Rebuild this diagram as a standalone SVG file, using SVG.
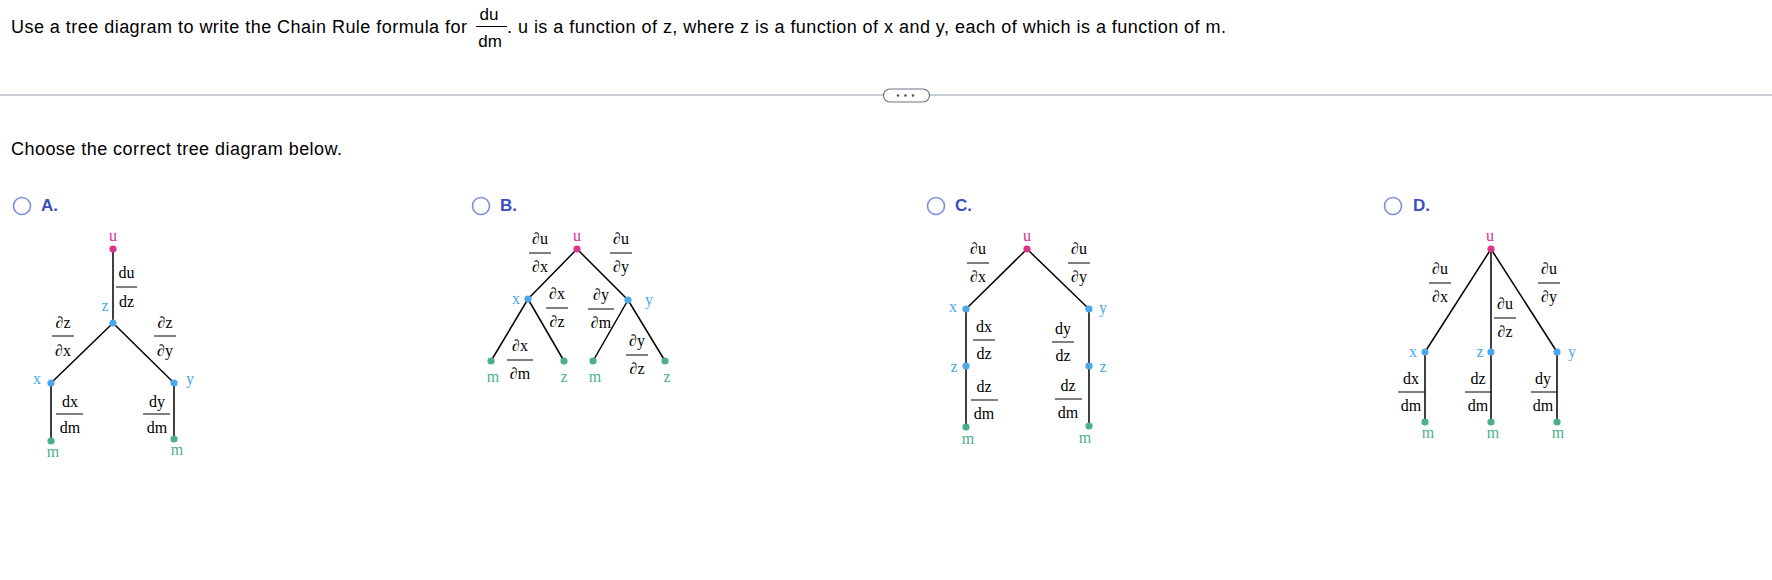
<svg xmlns="http://www.w3.org/2000/svg" width="1772" height="580" viewBox="0 0 1772 580">
<style>
.hd{font-family:"Liberation Sans",Arial,sans-serif;font-size:18px;fill:#000}
.fr{font-family:"Liberation Sans",Arial,sans-serif;font-size:17px;fill:#000;text-anchor:middle}
.opt{font-family:"Liberation Sans",Arial,sans-serif;font-size:17px;font-weight:bold;fill:#3a4fc0}
.radio{fill:#fff;stroke:#7f8fe0;stroke-width:1.6}
.m{font-family:"Liberation Serif","Times New Roman",serif;font-size:16px;fill:#000;text-anchor:middle}
.nl{font-family:"Liberation Serif","Times New Roman",serif;font-size:16px;text-anchor:middle}
.cu{fill:#d9338b}.cb{fill:#4aa8e8}.cg{fill:#4caf8c}
.bar{stroke:#000;stroke-width:1}
.edge{stroke:#000;stroke-width:1.5;fill:none}
</style>
<rect width="1772" height="580" fill="#fff"/>
<g id="header">
<text class="hd" x="11" y="33" textLength="456" lengthAdjust="spacing">Use a tree diagram to write the Chain Rule formula for</text>
<text class="fr" x="489" y="20">du</text>
<line x1="476" y1="26.5" x2="507" y2="26.5" stroke="#000" stroke-width="1"/>
<text class="fr" x="490" y="47">dm</text>
<text class="hd" x="507" y="33" textLength="719" lengthAdjust="spacing">. u is a function of z, where z is a function of x and y, each of which is a function of m.</text>
</g>
<g id="divider">
<line x1="0" y1="95" x2="883" y2="95" stroke="#b4bcc8" stroke-width="1.5"/>
<line x1="930" y1="95" x2="1772" y2="95" stroke="#b4bcc8" stroke-width="1.5"/>
<rect x="883.5" y="89" width="46" height="13" rx="6.5" fill="#fff" stroke="#6b7585" stroke-width="1.2"/>
<circle cx="898" cy="95.5" r="1.3" fill="#555"/><circle cx="905.5" cy="95.5" r="1.3" fill="#555"/><circle cx="913" cy="95.5" r="1.3" fill="#555"/>
</g>
<text class="hd" x="11" y="155" textLength="331" lengthAdjust="spacing">Choose the correct tree diagram below.</text>
<g id="options">
<circle class="radio" cx="22" cy="206" r="8.5"/><text class="opt" x="41" y="211">A.</text>
<circle class="radio" cx="481" cy="206" r="8.5"/><text class="opt" x="500" y="211">B.</text>
<circle class="radio" cx="936" cy="206" r="8.5"/><text class="opt" x="955" y="211">C.</text>
<circle class="radio" cx="1393" cy="206" r="8.5"/><text class="opt" x="1413" y="211">D.</text>
</g>

<!-- Tree A -->
<g id="treeA-edges">
<line class="edge" x1="113" y1="249" x2="113" y2="323"/>
<line class="edge" x1="113" y1="323" x2="51" y2="383"/>
<line class="edge" x1="113" y1="323" x2="174" y2="383"/>
<line class="edge" x1="51" y1="383" x2="51" y2="441"/>
<line class="edge" x1="174" y1="383" x2="174" y2="439"/>
</g>
<g id="treeA-nodes">
<g id="A-u"><circle cx="113" cy="249" r="3.6" class="cu"/><text class="nl cu" x="113" y="241">u</text></g>
<g id="A-z"><circle cx="113" cy="323" r="3.6" class="cb"/><text class="nl cb" x="105" y="311">z</text></g>
<g id="A-x"><circle cx="51" cy="383" r="3.6" class="cb"/><text class="nl cb" x="37" y="384">x</text></g>
<g id="A-y"><circle cx="174" cy="383" r="3.6" class="cb"/><text class="nl cb" x="190" y="384">y</text></g>
<g id="A-m1"><circle cx="51" cy="441" r="3.6" class="cg"/><text class="nl cg" x="53" y="457">m</text></g>
<g id="A-m2"><circle cx="174" cy="439" r="3.6" class="cg"/><text class="nl cg" x="177" y="455">m</text></g>
</g>
<g id="treeA-labels">
<text class="m" x="126.5" y="278">du</text><line class="bar" x1="116" y1="287" x2="137" y2="287"/><text class="m" x="126.5" y="307">dz</text>
<text class="m" x="63" y="328">∂z</text><line class="bar" x1="52" y1="336" x2="74" y2="336"/><text class="m" x="63" y="356">∂x</text>
<text class="m" x="165" y="328">∂z</text><line class="bar" x1="154" y1="336" x2="176" y2="336"/><text class="m" x="165" y="356">∂y</text>
<text class="m" x="70" y="407">dx</text><line class="bar" x1="56" y1="414" x2="83" y2="414"/><text class="m" x="70" y="433">dm</text>
<text class="m" x="157" y="407">dy</text><line class="bar" x1="143" y1="414" x2="170" y2="414"/><text class="m" x="157" y="433">dm</text>
</g>

<!-- Tree B -->
<g id="treeB-edges">
<line class="edge" x1="577" y1="249" x2="528" y2="299"/>
<line class="edge" x1="577" y1="249" x2="628" y2="300"/>
<line class="edge" x1="528" y1="299" x2="491" y2="361"/>
<line class="edge" x1="528" y1="299" x2="564" y2="361"/>
<line class="edge" x1="628" y1="300" x2="593" y2="361"/>
<line class="edge" x1="628" y1="300" x2="665" y2="361"/>
</g>
<g id="treeB-nodes">
<g id="B-u"><circle cx="577" cy="249" r="3.6" class="cu"/><text class="nl cu" x="577" y="241">u</text></g>
<g id="B-x"><circle cx="528" cy="299" r="3.6" class="cb"/><text class="nl cb" x="516" y="304">x</text></g>
<g id="B-y"><circle cx="628" cy="300" r="3.6" class="cb"/><text class="nl cb" x="649" y="305">y</text></g>
<g id="B-m1"><circle cx="491" cy="361" r="3.6" class="cg"/><text class="nl cg" x="493" y="382">m</text></g>
<g id="B-z1"><circle cx="564" cy="361" r="3.6" class="cg"/><text class="nl cg" x="564" y="382">z</text></g>
<g id="B-m2"><circle cx="593" cy="361" r="3.6" class="cg"/><text class="nl cg" x="595" y="382">m</text></g>
<g id="B-z2"><circle cx="665" cy="361" r="3.6" class="cg"/><text class="nl cg" x="667" y="382">z</text></g>
</g>
<g id="treeB-labels">
<text class="m" x="540" y="244">∂u</text><line class="bar" x1="529" y1="253" x2="551" y2="253"/><text class="m" x="540" y="272">∂x</text>
<text class="m" x="621" y="244">∂u</text><line class="bar" x1="610" y1="253" x2="632" y2="253"/><text class="m" x="621" y="272">∂y</text>
<text class="m" x="557" y="299">∂x</text><line class="bar" x1="546" y1="308" x2="568" y2="308"/><text class="m" x="557" y="327">∂z</text>
<text class="m" x="601" y="300">∂y</text><line class="bar" x1="588" y1="309" x2="614" y2="309"/><text class="m" x="601" y="328">∂m</text>
<text class="m" x="520" y="351">∂x</text><line class="bar" x1="507" y1="360" x2="533" y2="360"/><text class="m" x="520" y="379">∂m</text>
<text class="m" x="637" y="346">∂y</text><line class="bar" x1="626" y1="355" x2="648" y2="355"/><text class="m" x="637" y="374">∂z</text>
</g>

<!-- Tree C -->
<g id="treeC-edges">
<line class="edge" x1="1027" y1="249" x2="966" y2="309"/>
<line class="edge" x1="1027" y1="249" x2="1089" y2="309"/>
<line class="edge" x1="966" y1="309" x2="966" y2="427"/>
<line class="edge" x1="1089" y1="309" x2="1089" y2="426"/>
</g>
<g id="treeC-nodes">
<g id="C-u"><circle cx="1027" cy="249" r="3.6" class="cu"/><text class="nl cu" x="1027" y="241">u</text></g>
<g id="C-x"><circle cx="966" cy="309" r="3.6" class="cb"/><text class="nl cb" x="953" y="312">x</text></g>
<g id="C-y"><circle cx="1089" cy="309" r="3.6" class="cb"/><text class="nl cb" x="1103" y="313">y</text></g>
<g id="C-z1"><circle cx="966" cy="366" r="3.6" class="cb"/><text class="nl cb" x="954" y="372">z</text></g>
<g id="C-z2"><circle cx="1089" cy="366" r="3.6" class="cb"/><text class="nl cb" x="1103" y="372">z</text></g>
<g id="C-m1"><circle cx="966" cy="427" r="3.6" class="cg"/><text class="nl cg" x="968" y="444">m</text></g>
<g id="C-m2"><circle cx="1089" cy="426" r="3.6" class="cg"/><text class="nl cg" x="1085" y="443">m</text></g>
</g>
<g id="treeC-labels">
<text class="m" x="978" y="254">∂u</text><line class="bar" x1="967" y1="263" x2="989" y2="263"/><text class="m" x="978" y="282">∂x</text>
<text class="m" x="1079" y="254">∂u</text><line class="bar" x1="1068" y1="263" x2="1090" y2="263"/><text class="m" x="1079" y="282">∂y</text>
<text class="m" x="984" y="332">dx</text><line class="bar" x1="973" y1="340" x2="995" y2="340"/><text class="m" x="984" y="359">dz</text>
<text class="m" x="1063" y="334">dy</text><line class="bar" x1="1052" y1="342" x2="1074" y2="342"/><text class="m" x="1063" y="361">dz</text>
<text class="m" x="984" y="392">dz</text><line class="bar" x1="971" y1="400" x2="998" y2="400"/><text class="m" x="984" y="419">dm</text>
<text class="m" x="1068" y="391">dz</text><line class="bar" x1="1055" y1="399" x2="1082" y2="399"/><text class="m" x="1068" y="418">dm</text>
</g>

<!-- Tree D -->
<g id="treeD-edges">
<line class="edge" x1="1491" y1="249" x2="1425" y2="352"/>
<line class="edge" x1="1491" y1="249" x2="1491" y2="352"/>
<line class="edge" x1="1491" y1="249" x2="1557" y2="352"/>
<line class="edge" x1="1425" y1="352" x2="1425" y2="422"/>
<line class="edge" x1="1491" y1="352" x2="1491" y2="422"/>
<line class="edge" x1="1557" y1="352" x2="1557" y2="422"/>
</g>
<g id="treeD-nodes">
<g id="D-u"><circle cx="1491" cy="249" r="3.6" class="cu"/><text class="nl cu" x="1490" y="241">u</text></g>
<g id="D-x"><circle cx="1425" cy="352" r="3.6" class="cb"/><text class="nl cb" x="1413" y="357">x</text></g>
<g id="D-z"><circle cx="1491" cy="352" r="3.6" class="cb"/><text class="nl cb" x="1480" y="357">z</text></g>
<g id="D-y"><circle cx="1557" cy="352" r="3.6" class="cb"/><text class="nl cb" x="1572" y="357">y</text></g>
<g id="D-m1"><circle cx="1425" cy="422" r="3.6" class="cg"/><text class="nl cg" x="1428" y="438">m</text></g>
<g id="D-m2"><circle cx="1491" cy="422" r="3.6" class="cg"/><text class="nl cg" x="1493" y="438">m</text></g>
<g id="D-m3"><circle cx="1557" cy="422" r="3.6" class="cg"/><text class="nl cg" x="1558" y="438">m</text></g>
</g>
<g id="treeD-labels">
<text class="m" x="1440" y="274">∂u</text><line class="bar" x1="1429" y1="283" x2="1451" y2="283"/><text class="m" x="1440" y="302">∂x</text>
<text class="m" x="1549" y="274">∂u</text><line class="bar" x1="1538" y1="283" x2="1560" y2="283"/><text class="m" x="1549" y="302">∂y</text>
<text class="m" x="1505" y="309">∂u</text><line class="bar" x1="1494" y1="318" x2="1516" y2="318"/><text class="m" x="1505" y="337">∂z</text>
<text class="m" x="1411" y="384">dx</text><line class="bar" x1="1398" y1="392" x2="1425" y2="392"/><text class="m" x="1411" y="411">dm</text>
<text class="m" x="1478" y="384">dz</text><line class="bar" x1="1465" y1="392" x2="1491" y2="392"/><text class="m" x="1478" y="411">dm</text>
<text class="m" x="1543" y="384">dy</text><line class="bar" x1="1531" y1="392" x2="1557" y2="392"/><text class="m" x="1543" y="411">dm</text>
</g>
</svg>
